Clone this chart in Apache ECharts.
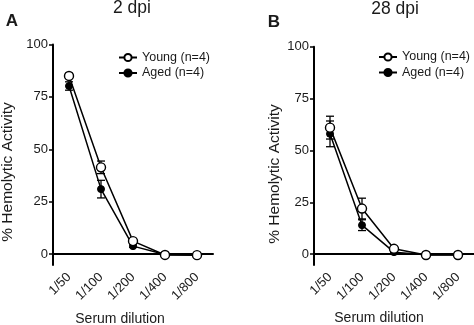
<!DOCTYPE html>
<html>
<head>
<meta charset="utf-8">
<script src="https://cdn.jsdelivr.net/npm/echarts@6/dist/echarts.min.js"></script>
<style>html,body{margin:0;padding:0;background:#fff;}#c{width:474px;height:325px;}</style>
</head>
<body>
<div id="c"></div>
<script>
var categories = ['1/50', '1/100', '1/200', '1/400', '1/800'];
var yTicks = [0, 25, 50, 75, 100];
var youngA = [85, 41.4, 6.2, -0.4, -0.5];
var youngAErr = [1.2, 3, 0.8, 0.3, 0.3];
var agedA = [80.2, 31, 3.8, -0.2, -0.3];
var agedAErr = [2, 4.2, 0.6, 0.3, 0.3];
var youngB = [61, 22, 2.6, -0.4, -0.4];
var youngBErr = [5.5, 5, 0.6, 0.3, 0.3];
var agedB = [58, 14, 1, -0.3, -0.3];
var agedBErr = [6.2, 2.6, 0.5, 0.3, 0.3];

var FONT = 'Arial, "Liberation Sans", sans-serif';

function errData(vals, errs) {
  return vals.map(function (v, i) { return [i, v - errs[i], v + errs[i]]; });
}
function errSeries(vals, errs, gi) {
  return {
    type: 'custom', xAxisIndex: gi, yAxisIndex: gi, z: 1, silent: true,
    data: errData(vals, errs),
    renderItem: function (params, api) {
      var x = api.value(0);
      var lo = api.coord([x, api.value(1)]);
      var hi = api.coord([x, api.value(2)]);
      var w = 4;
      var st = { stroke: '#000', lineWidth: 1.3 };
      return { type: 'group', children: [
        { type: 'line', shape: { x1: lo[0], y1: lo[1], x2: hi[0], y2: hi[1] }, style: st },
        { type: 'line', shape: { x1: lo[0] - w, y1: lo[1], x2: lo[0] + w, y2: lo[1] }, style: st },
        { type: 'line', shape: { x1: hi[0] - w, y1: hi[1], x2: hi[0] + w, y2: hi[1] }, style: st }
      ]};
    }
  };
}
function lineSeries(name, vals, gi, young) {
  return {
    type: 'line', name: name, xAxisIndex: gi, yAxisIndex: gi, data: vals,
    z: young ? 4 : 3,
    symbol: 'circle', symbolSize: young ? 9 : 7,
    lineStyle: { color: '#000', width: 1.5 },
    itemStyle: young ? { color: '#fff', borderColor: '#000', borderWidth: 1.4 } : { color: '#000', borderColor: '#000', borderWidth: 1 },
    animation: false
  };
}
function xAx(gi) {
  return {
    type: 'category', gridIndex: gi, data: categories, boundaryGap: true,
    axisLine: { lineStyle: { color: '#000', width: 2 } },
    axisTick: { alignWithLabel: true, length: 5, lineStyle: { color: '#000', width: 1.5 } },
    axisLabel: { rotate: 45, fontSize: 13, color: '#1a1a1a', fontFamily: FONT, margin: 10 },
    splitLine: { show: false }
  };
}
function yAx(gi) {
  return {
    type: 'value', gridIndex: gi, min: -5.2, max: 100,
    axisLine: { show: true, lineStyle: { color: '#000', width: 2 } },
    axisTick: { show: true, customValues: yTicks, length: 4, lineStyle: { color: '#000', width: 1.5 } },
    axisLabel: { customValues: yTicks, fontSize: 13, color: '#1a1a1a', fontFamily: FONT, margin: 5 },
    splitLine: { show: false }
  };
}
function legend(left, top, gi) {
  return {
    orient: 'vertical', left: left, top: top, itemWidth: 18, itemHeight: 9, itemGap: 2.5,
    textStyle: { fontSize: 12.5, color: '#1a1a1a', fontFamily: FONT },
    data: gi === 0 ? ['Young (n=4) ', 'Aged (n=4) '] : ['Young (n=4)', 'Aged (n=4)']
  };
}
function txt(t, x, y, size, bold, rot) {
  return { type: 'text', x: x, y: y, rotation: rot || 0,
    style: { text: t, fontSize: size, fontWeight: bold ? 'bold' : 'normal', fontFamily: FONT, fill: '#1a1a1a', align: 'center', verticalAlign: 'middle' } };
}

var chart = echarts.init(document.getElementById('c'));
chart.setOption({
  animation: false,
  backgroundColor: '#fff',
  grid: [
    { left: 53, right: 261, top: 44.5, bottom: 60 },
    { left: 314, right: 0, top: 46.7, bottom: 60 }
  ],
  xAxis: [xAx(0), xAx(1)],
  yAxis: [yAx(0), yAx(1)],
  legend: [legend(113, 46, 0), legend(373, 45.5, 1)],
  series: [
    errSeries(agedA, agedAErr, 0), errSeries(youngA, youngAErr, 0),
    lineSeries('Aged (n=4) ', agedA, 0, false), lineSeries('Young (n=4) ', youngA, 0, true),
    errSeries(agedB, agedBErr, 1), errSeries(youngB, youngBErr, 1),
    lineSeries('Aged (n=4)', agedB, 1, false), lineSeries('Young (n=4)', youngB, 1, true)
  ],
  graphic: [
    txt('2 dpi', 132, 8, 17.5, false),
    txt('28 dpi', 395, 9, 17.5, false),
    txt('A', 12, 21, 17, true),
    txt('B', 274, 22, 17, true),
    txt('% Hemolytic Activity', 8, 172, 15.5, false, Math.PI / 2),
    txt('% Hemolytic Activity', 275, 174, 15.5, false, Math.PI / 2),
    txt('Serum dilution', 120, 319, 14, false),
    txt('Serum dilution', 379, 318, 14, false)
  ]
});
</script>
</body>
</html>
